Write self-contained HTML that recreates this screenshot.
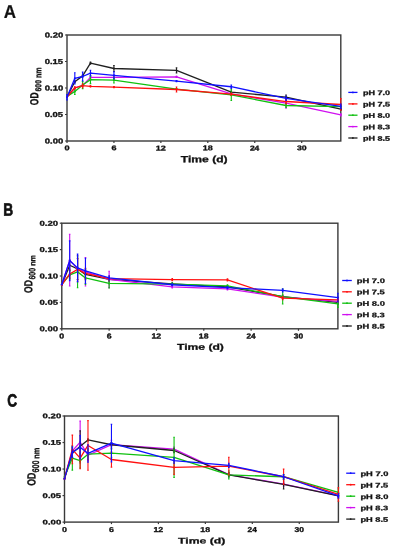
<!DOCTYPE html>
<html><head><meta charset="utf-8"><style>
html,body{margin:0;padding:0;background:#fff;}
svg{display:block;}
text{font-family:"Liberation Sans", Arial, sans-serif;}
</style></head><body>
<svg width="394" height="550" viewBox="0 0 394 550">
<rect width="394" height="550" fill="#fff"/>
<rect x="67" y="35" width="273.8" height="106" fill="none" stroke="#3a3a3a" stroke-width="1.4"/>
<polyline points="67,97.01 74.82,88 82.65,85.35 90.47,77.4 113.94,77.29 176.52,76.82 231.28,93.88 286.04,103.21 340.8,114.82" fill="none" stroke="#d010f0" stroke-width="1.3" stroke-linejoin="round"/>
<circle cx="67" cy="97.01" r="1" fill="#d010f0"/>
<path d="M74.82 86.94V89.06M74.02 86.94h1.6M74.02 89.06h1.6" stroke="#d010f0" stroke-width="1.1"/>
<circle cx="74.82" cy="88" r="1" fill="#d010f0"/>
<path d="M82.65 84.29V86.41M81.85 84.29h1.6M81.85 86.41h1.6" stroke="#d010f0" stroke-width="1.1"/>
<circle cx="82.65" cy="85.35" r="1" fill="#d010f0"/>
<path d="M90.47 76.34V78.46M89.67 76.34h1.6M89.67 78.46h1.6" stroke="#d010f0" stroke-width="1.1"/>
<circle cx="90.47" cy="77.4" r="1" fill="#d010f0"/>
<path d="M113.94 76.23V78.35M113.14 76.23h1.6M113.14 78.35h1.6" stroke="#d010f0" stroke-width="1.1"/>
<circle cx="113.94" cy="77.29" r="1" fill="#d010f0"/>
<path d="M176.52 76.29V77.35M175.72 76.29h1.6M175.72 77.35h1.6" stroke="#d010f0" stroke-width="1.1"/>
<circle cx="176.52" cy="76.82" r="1" fill="#d010f0"/>
<path d="M231.28 92.82V94.94M230.48 92.82h1.6M230.48 94.94h1.6" stroke="#d010f0" stroke-width="1.1"/>
<circle cx="231.28" cy="93.88" r="1" fill="#d010f0"/>
<path d="M286.04 98.12V108.3M285.24 98.12h1.6M285.24 108.3h1.6" stroke="#d010f0" stroke-width="1.1"/>
<circle cx="286.04" cy="103.21" r="1" fill="#d010f0"/>
<path d="M340.8 113.76V115.88M340 113.76h1.6M340 115.88h1.6" stroke="#d010f0" stroke-width="1.1"/>
<circle cx="340.8" cy="114.82" r="1" fill="#d010f0"/>
<polyline points="67,97.01 74.82,81.75 82.65,75.86 90.47,63.09 113.94,68.5 176.52,70.4 231.28,92.13 286.04,97.22 340.8,109.2" fill="none" stroke="#202020" stroke-width="1.3" stroke-linejoin="round"/>
<circle cx="67" cy="97.01" r="1" fill="#202020"/>
<path d="M74.82 80.69V82.81M74.02 80.69h1.6M74.02 82.81h1.6" stroke="#202020" stroke-width="1.1"/>
<circle cx="74.82" cy="81.75" r="1" fill="#202020"/>
<path d="M82.65 74.8V76.92M81.85 74.8h1.6M81.85 76.92h1.6" stroke="#202020" stroke-width="1.1"/>
<circle cx="82.65" cy="75.86" r="1" fill="#202020"/>
<path d="M90.47 62.03V64.15M89.67 62.03h1.6M89.67 64.15h1.6" stroke="#202020" stroke-width="1.1"/>
<circle cx="90.47" cy="63.09" r="1" fill="#202020"/>
<path d="M113.94 65.47V71.52M113.14 65.47h1.6M113.14 71.52h1.6" stroke="#202020" stroke-width="1.1"/>
<circle cx="113.94" cy="68.5" r="1" fill="#202020"/>
<path d="M176.52 67.91V72.89M175.72 67.91h1.6M175.72 72.89h1.6" stroke="#202020" stroke-width="1.1"/>
<circle cx="176.52" cy="70.4" r="1" fill="#202020"/>
<path d="M231.28 91.07V93.19M230.48 91.07h1.6M230.48 93.19h1.6" stroke="#202020" stroke-width="1.1"/>
<circle cx="231.28" cy="92.13" r="1" fill="#202020"/>
<path d="M286.04 94.94V99.5M285.24 94.94h1.6M285.24 99.5h1.6" stroke="#202020" stroke-width="1.1"/>
<circle cx="286.04" cy="97.22" r="1" fill="#202020"/>
<path d="M340.8 108.14V110.26M340 108.14h1.6M340 110.26h1.6" stroke="#202020" stroke-width="1.1"/>
<circle cx="340.8" cy="109.2" r="1" fill="#202020"/>
<polyline points="67,96.48 74.82,91.39 82.65,85.09 90.47,79.63 113.94,80.1 176.52,89.06 231.28,94.89 286.04,105.49 340.8,106.55" fill="none" stroke="#10c010" stroke-width="1.3" stroke-linejoin="round"/>
<circle cx="67" cy="96.48" r="1" fill="#10c010"/>
<path d="M74.82 88.21V94.57M74.02 88.21h1.6M74.02 94.57h1.6" stroke="#10c010" stroke-width="1.1"/>
<circle cx="74.82" cy="91.39" r="1" fill="#10c010"/>
<path d="M82.65 81.59V88.58M81.85 81.59h1.6M81.85 88.58h1.6" stroke="#10c010" stroke-width="1.1"/>
<circle cx="82.65" cy="85.09" r="1" fill="#10c010"/>
<path d="M90.47 75.65V83.6M89.67 75.65h1.6M89.67 83.6h1.6" stroke="#10c010" stroke-width="1.1"/>
<circle cx="90.47" cy="79.63" r="1" fill="#10c010"/>
<path d="M113.94 77.19V83.02M113.14 77.19h1.6M113.14 83.02h1.6" stroke="#10c010" stroke-width="1.1"/>
<circle cx="113.94" cy="80.1" r="1" fill="#10c010"/>
<path d="M176.52 88.53V89.59M175.72 88.53h1.6M175.72 89.59h1.6" stroke="#10c010" stroke-width="1.1"/>
<circle cx="176.52" cy="89.06" r="1" fill="#10c010"/>
<path d="M231.28 89.27V100.51M230.48 89.27h1.6M230.48 100.51h1.6" stroke="#10c010" stroke-width="1.1"/>
<circle cx="231.28" cy="94.89" r="1" fill="#10c010"/>
<path d="M286.04 103.63V107.34M285.24 103.63h1.6M285.24 107.34h1.6" stroke="#10c010" stroke-width="1.1"/>
<circle cx="286.04" cy="105.49" r="1" fill="#10c010"/>
<path d="M340.8 105.49V107.61M340 105.49h1.6M340 107.61h1.6" stroke="#10c010" stroke-width="1.1"/>
<circle cx="340.8" cy="106.55" r="1" fill="#10c010"/>
<polyline points="67,97.01 74.82,87.79 82.65,85.72 90.47,86.3 113.94,87.1 176.52,89.48 231.28,94.2 286.04,101.52 340.8,104.48" fill="none" stroke="#ff1010" stroke-width="1.3" stroke-linejoin="round"/>
<circle cx="67" cy="97.01" r="1" fill="#ff1010"/>
<path d="M74.82 86.73V88.85M74.02 86.73h1.6M74.02 88.85h1.6" stroke="#ff1010" stroke-width="1.1"/>
<circle cx="74.82" cy="87.79" r="1" fill="#ff1010"/>
<path d="M82.65 83.71V87.73M81.85 83.71h1.6M81.85 87.73h1.6" stroke="#ff1010" stroke-width="1.1"/>
<circle cx="82.65" cy="85.72" r="1" fill="#ff1010"/>
<path d="M90.47 85.77V86.83M89.67 85.77h1.6M89.67 86.83h1.6" stroke="#ff1010" stroke-width="1.1"/>
<circle cx="90.47" cy="86.3" r="1" fill="#ff1010"/>
<path d="M113.94 86.57V87.63M113.14 86.57h1.6M113.14 87.63h1.6" stroke="#ff1010" stroke-width="1.1"/>
<circle cx="113.94" cy="87.1" r="1" fill="#ff1010"/>
<path d="M176.52 86.94V92.03M175.72 86.94h1.6M175.72 92.03h1.6" stroke="#ff1010" stroke-width="1.1"/>
<circle cx="176.52" cy="89.48" r="1" fill="#ff1010"/>
<path d="M231.28 93.14V95.26M230.48 93.14h1.6M230.48 95.26h1.6" stroke="#ff1010" stroke-width="1.1"/>
<circle cx="231.28" cy="94.2" r="1" fill="#ff1010"/>
<path d="M286.04 99.4V103.64M285.24 99.4h1.6M285.24 103.64h1.6" stroke="#ff1010" stroke-width="1.1"/>
<circle cx="286.04" cy="101.52" r="1" fill="#ff1010"/>
<path d="M340.8 98.65V110.31M340 98.65h1.6M340 110.31h1.6" stroke="#ff1010" stroke-width="1.1"/>
<circle cx="340.8" cy="104.48" r="1" fill="#ff1010"/>
<polyline points="67,97.22 74.82,78.35 82.65,76.5 90.47,73.16 113.94,75.28 176.52,81.11 231.28,86.73 286.04,98.44 340.8,106.28" fill="none" stroke="#1010ff" stroke-width="1.3" stroke-linejoin="round"/>
<path d="M67 94.57V99.87M66.2 94.57h1.6M66.2 99.87h1.6" stroke="#1010ff" stroke-width="1.1"/>
<circle cx="67" cy="97.22" r="1" fill="#1010ff"/>
<path d="M74.82 72.74V83.97M74.02 72.74h1.6M74.02 83.97h1.6" stroke="#1010ff" stroke-width="1.1"/>
<circle cx="74.82" cy="78.35" r="1" fill="#1010ff"/>
<path d="M82.65 72.1V80.9M81.85 72.1h1.6M81.85 80.9h1.6" stroke="#1010ff" stroke-width="1.1"/>
<circle cx="82.65" cy="76.5" r="1" fill="#1010ff"/>
<path d="M90.47 70.3V76.02M89.67 70.3h1.6M89.67 76.02h1.6" stroke="#1010ff" stroke-width="1.1"/>
<circle cx="90.47" cy="73.16" r="1" fill="#1010ff"/>
<path d="M113.94 71.84V78.72M113.14 71.84h1.6M113.14 78.72h1.6" stroke="#1010ff" stroke-width="1.1"/>
<circle cx="113.94" cy="75.28" r="1" fill="#1010ff"/>
<path d="M176.52 80.58V81.64M175.72 80.58h1.6M175.72 81.64h1.6" stroke="#1010ff" stroke-width="1.1"/>
<circle cx="176.52" cy="81.11" r="1" fill="#1010ff"/>
<path d="M231.28 84.93V88.53M230.48 84.93h1.6M230.48 88.53h1.6" stroke="#1010ff" stroke-width="1.1"/>
<circle cx="231.28" cy="86.73" r="1" fill="#1010ff"/>
<path d="M286.04 96.32V100.56M285.24 96.32h1.6M285.24 100.56h1.6" stroke="#1010ff" stroke-width="1.1"/>
<circle cx="286.04" cy="98.44" r="1" fill="#1010ff"/>
<path d="M340.8 104.16V108.41M340 104.16h1.6M340 108.41h1.6" stroke="#1010ff" stroke-width="1.1"/>
<circle cx="340.8" cy="106.28" r="1" fill="#1010ff"/>
<path d="M65 141H67" stroke="#3a3a3a" stroke-width="1.2"/>
<text transform="translate(44.72,143.48) scale(1.321,1) rotate(0.05)" font-size="7.18" fill="#111" font-weight="bold" stroke="#111" stroke-width="0.30">0.00</text>
<path d="M65 114.5H67" stroke="#3a3a3a" stroke-width="1.2"/>
<text transform="translate(44.72,116.98) scale(1.311,1) rotate(0.05)" font-size="7.18" fill="#111" font-weight="bold" stroke="#111" stroke-width="0.31">0.05</text>
<path d="M65 88H67" stroke="#3a3a3a" stroke-width="1.2"/>
<text transform="translate(44.72,90.48) scale(1.321,1) rotate(0.05)" font-size="7.18" fill="#111" font-weight="bold" stroke="#111" stroke-width="0.30">0.10</text>
<path d="M65 61.5H67" stroke="#3a3a3a" stroke-width="1.2"/>
<text transform="translate(44.72,63.98) scale(1.311,1) rotate(0.05)" font-size="7.18" fill="#111" font-weight="bold" stroke="#111" stroke-width="0.31">0.15</text>
<path d="M65 35H67" stroke="#3a3a3a" stroke-width="1.2"/>
<text transform="translate(44.72,37.48) scale(1.321,1) rotate(0.05)" font-size="7.18" fill="#111" font-weight="bold" stroke="#111" stroke-width="0.30">0.20</text>
<path d="M67 141V143" stroke="#3a3a3a" stroke-width="1.2"/>
<text transform="translate(64.46,150.33) scale(1.327,1) rotate(0.05)" font-size="6.90" fill="#111" font-weight="bold" stroke="#111" stroke-width="0.30">0</text>
<path d="M113.94 141V143" stroke="#3a3a3a" stroke-width="1.2"/>
<text transform="translate(111.45,150.33) scale(1.300,1) rotate(0.05)" font-size="6.90" fill="#111" font-weight="bold" stroke="#111" stroke-width="0.31">6</text>
<path d="M160.87 141V143" stroke="#3a3a3a" stroke-width="1.2"/>
<text transform="translate(155.74,150.4) scale(1.294,1) rotate(0.05)" font-size="7.00" fill="#111" font-weight="bold" stroke="#111" stroke-width="0.31">12</text>
<path d="M207.81 141V143" stroke="#3a3a3a" stroke-width="1.2"/>
<text transform="translate(202.68,150.33) scale(1.299,1) rotate(0.05)" font-size="6.90" fill="#111" font-weight="bold" stroke="#111" stroke-width="0.31">18</text>
<path d="M254.75 141V143" stroke="#3a3a3a" stroke-width="1.2"/>
<text transform="translate(249.9,150.4) scale(1.215,1) rotate(0.05)" font-size="7.00" fill="#111" font-weight="bold" stroke="#111" stroke-width="0.33">24</text>
<path d="M301.69 141V143" stroke="#3a3a3a" stroke-width="1.2"/>
<text transform="translate(296.92,150.33) scale(1.262,1) rotate(0.05)" font-size="6.90" fill="#111" font-weight="bold" stroke="#111" stroke-width="0.32">30</text>
<text transform="translate(180.78,162.31) scale(1.348,1) rotate(0.05)" font-size="8.98" fill="#111" font-weight="bold" stroke="#111" stroke-width="0.30">Time (d)</text>
<text transform="translate(38.33,105.19) rotate(-89.95) scale(0.729,1)" font-size="11.69" fill="#111" font-weight="bold" stroke="#111" stroke-width="0.30">OD</text>
<text transform="translate(41.16,91.49) rotate(-89.95) scale(0.798,1)" font-size="8.59" fill="#111" font-weight="bold" stroke="#111" stroke-width="0.30">600</text>
<text transform="translate(41.25,78.01) rotate(-89.95) scale(0.813,1)" font-size="8.70" fill="#111" font-weight="bold" stroke="#111" stroke-width="0.30">nm</text>
<text transform="translate(3.87,18) scale(0.910,1) rotate(0.05)" font-size="18.70" fill="#111" font-weight="bold" stroke="#111" stroke-width="0.22">A</text>
<path d="M348.3 92.4H357.5" stroke="#1010ff" stroke-width="1.3"/>
<circle cx="352.9" cy="92.4" r="0.9" fill="#1010ff"/>
<text transform="translate(363.01,95.02) scale(1.373,1) rotate(0.05)" font-size="6.59" fill="#111" font-weight="bold" stroke="#111" stroke-width="0.29">pH 7.0</text>
<path d="M348.3 103.9H357.5" stroke="#ff1010" stroke-width="1.3"/>
<circle cx="352.9" cy="103.9" r="0.9" fill="#ff1010"/>
<text transform="translate(363.01,106.5) scale(1.351,1) rotate(0.05)" font-size="6.67" fill="#111" font-weight="bold" stroke="#111" stroke-width="0.30">pH 7.5</text>
<path d="M348.3 115.2H357.5" stroke="#10c010" stroke-width="1.3"/>
<circle cx="352.9" cy="115.2" r="0.9" fill="#10c010"/>
<text transform="translate(363.01,117.82) scale(1.373,1) rotate(0.05)" font-size="6.59" fill="#111" font-weight="bold" stroke="#111" stroke-width="0.29">pH 8.0</text>
<path d="M348.3 126.6H357.5" stroke="#d010f0" stroke-width="1.3"/>
<circle cx="352.9" cy="126.6" r="0.9" fill="#d010f0"/>
<text transform="translate(363.01,129.22) scale(1.370,1) rotate(0.05)" font-size="6.59" fill="#111" font-weight="bold" stroke="#111" stroke-width="0.29">pH 8.3</text>
<path d="M348.3 138H357.5" stroke="#202020" stroke-width="1.3"/>
<circle cx="352.9" cy="138" r="0.9" fill="#202020"/>
<text transform="translate(363.01,140.62) scale(1.366,1) rotate(0.05)" font-size="6.59" fill="#111" font-weight="bold" stroke="#111" stroke-width="0.29">pH 8.5</text>
<rect x="61.8" y="223.2" width="276.1" height="105.6" fill="none" stroke="#3a3a3a" stroke-width="1.4"/>
<polyline points="61.8,284.98 69.69,265.28 77.58,268.87 85.47,274.42 109.13,279.43 172.24,283.92 227.46,286.82 282.68,296.54 337.9,302.4" fill="none" stroke="#202020" stroke-width="1.3" stroke-linejoin="round"/>
<circle cx="61.8" cy="284.98" r="1" fill="#202020"/>
<path d="M69.69 260V270.56M68.89 260h1.6M68.89 270.56h1.6" stroke="#202020" stroke-width="1.1"/>
<circle cx="69.69" cy="265.28" r="1" fill="#202020"/>
<path d="M77.58 258.31V279.43M76.78 258.31h1.6M76.78 279.43h1.6" stroke="#202020" stroke-width="1.1"/>
<circle cx="77.58" cy="268.87" r="1" fill="#202020"/>
<path d="M85.47 269.14V279.7M84.67 269.14h1.6M84.67 279.7h1.6" stroke="#202020" stroke-width="1.1"/>
<circle cx="85.47" cy="274.42" r="1" fill="#202020"/>
<path d="M109.13 277.32V281.54M108.33 277.32h1.6M108.33 281.54h1.6" stroke="#202020" stroke-width="1.1"/>
<circle cx="109.13" cy="279.43" r="1" fill="#202020"/>
<path d="M172.24 282.86V284.98M171.44 282.86h1.6M171.44 284.98h1.6" stroke="#202020" stroke-width="1.1"/>
<circle cx="172.24" cy="283.92" r="1" fill="#202020"/>
<path d="M227.46 285.77V287.88M226.66 285.77h1.6M226.66 287.88h1.6" stroke="#202020" stroke-width="1.1"/>
<circle cx="227.46" cy="286.82" r="1" fill="#202020"/>
<path d="M282.68 294.96V298.12M281.88 294.96h1.6M281.88 298.12h1.6" stroke="#202020" stroke-width="1.1"/>
<circle cx="282.68" cy="296.54" r="1" fill="#202020"/>
<path d="M337.9 300.82V303.98M337.1 300.82h1.6M337.1 303.98h1.6" stroke="#202020" stroke-width="1.1"/>
<circle cx="337.9" cy="302.4" r="1" fill="#202020"/>
<polyline points="61.8,284.98 69.69,260.16 77.58,268.87 85.47,271.78 109.13,279.43 172.24,286.93 227.46,288.94 282.68,297.12 337.9,301.34" fill="none" stroke="#d010f0" stroke-width="1.3" stroke-linejoin="round"/>
<circle cx="61.8" cy="284.98" r="1" fill="#d010f0"/>
<path d="M69.69 234.29V286.03M68.89 234.29h1.6M68.89 286.03h1.6" stroke="#d010f0" stroke-width="1.1"/>
<circle cx="69.69" cy="260.16" r="1" fill="#d010f0"/>
<path d="M77.58 255.67V282.07M76.78 255.67h1.6M76.78 282.07h1.6" stroke="#d010f0" stroke-width="1.1"/>
<circle cx="77.58" cy="268.87" r="1" fill="#d010f0"/>
<path d="M85.47 257.52V286.03M84.67 257.52h1.6M84.67 286.03h1.6" stroke="#d010f0" stroke-width="1.1"/>
<circle cx="85.47" cy="271.78" r="1" fill="#d010f0"/>
<path d="M109.13 271.25V287.62M108.33 271.25h1.6M108.33 287.62h1.6" stroke="#d010f0" stroke-width="1.1"/>
<circle cx="109.13" cy="279.43" r="1" fill="#d010f0"/>
<path d="M172.24 285.87V287.99M171.44 285.87h1.6M171.44 287.99h1.6" stroke="#d010f0" stroke-width="1.1"/>
<circle cx="172.24" cy="286.93" r="1" fill="#d010f0"/>
<path d="M227.46 287.88V289.99M226.66 287.88h1.6M226.66 289.99h1.6" stroke="#d010f0" stroke-width="1.1"/>
<circle cx="227.46" cy="288.94" r="1" fill="#d010f0"/>
<path d="M282.68 295.54V298.7M281.88 295.54h1.6M281.88 298.7h1.6" stroke="#d010f0" stroke-width="1.1"/>
<circle cx="282.68" cy="297.12" r="1" fill="#d010f0"/>
<path d="M337.9 299.76V302.93M337.1 299.76h1.6M337.1 302.93h1.6" stroke="#d010f0" stroke-width="1.1"/>
<circle cx="337.9" cy="301.34" r="1" fill="#d010f0"/>
<polyline points="61.8,284.45 69.69,274.94 77.58,271.88 85.47,277.95 109.13,283.39 172.24,284.18 227.46,285.82 282.68,296.54 337.9,303.93" fill="none" stroke="#10c010" stroke-width="1.3" stroke-linejoin="round"/>
<circle cx="61.8" cy="284.45" r="1" fill="#10c010"/>
<path d="M69.69 270.72V279.17M68.89 270.72h1.6M68.89 279.17h1.6" stroke="#10c010" stroke-width="1.1"/>
<circle cx="69.69" cy="274.94" r="1" fill="#10c010"/>
<path d="M77.58 256.04V287.72M76.78 256.04h1.6M76.78 287.72h1.6" stroke="#10c010" stroke-width="1.1"/>
<circle cx="77.58" cy="271.88" r="1" fill="#10c010"/>
<path d="M85.47 271.35V284.55M84.67 271.35h1.6M84.67 284.55h1.6" stroke="#10c010" stroke-width="1.1"/>
<circle cx="85.47" cy="277.95" r="1" fill="#10c010"/>
<path d="M109.13 278.8V287.99M108.33 278.8h1.6M108.33 287.99h1.6" stroke="#10c010" stroke-width="1.1"/>
<circle cx="109.13" cy="283.39" r="1" fill="#10c010"/>
<path d="M172.24 283.13V285.24M171.44 283.13h1.6M171.44 285.24h1.6" stroke="#10c010" stroke-width="1.1"/>
<circle cx="172.24" cy="284.18" r="1" fill="#10c010"/>
<path d="M227.46 284.76V286.88M226.66 284.76h1.6M226.66 286.88h1.6" stroke="#10c010" stroke-width="1.1"/>
<circle cx="227.46" cy="285.82" r="1" fill="#10c010"/>
<path d="M282.68 289.15V303.93M281.88 289.15h1.6M281.88 303.93h1.6" stroke="#10c010" stroke-width="1.1"/>
<circle cx="282.68" cy="296.54" r="1" fill="#10c010"/>
<path d="M337.9 300.45V307.42M337.1 300.45h1.6M337.1 307.42h1.6" stroke="#10c010" stroke-width="1.1"/>
<circle cx="337.9" cy="303.93" r="1" fill="#10c010"/>
<polyline points="61.8,284.98 69.69,273.94 77.58,269.35 85.47,273.47 109.13,278.64 172.24,279.64 227.46,279.96 282.68,298.18 337.9,299.81" fill="none" stroke="#ff1010" stroke-width="1.3" stroke-linejoin="round"/>
<circle cx="61.8" cy="284.98" r="1" fill="#ff1010"/>
<path d="M69.69 269.72V278.16M68.89 269.72h1.6M68.89 278.16h1.6" stroke="#ff1010" stroke-width="1.1"/>
<circle cx="69.69" cy="273.94" r="1" fill="#ff1010"/>
<path d="M77.58 258.79V279.91M76.78 258.79h1.6M76.78 279.91h1.6" stroke="#ff1010" stroke-width="1.1"/>
<circle cx="77.58" cy="269.35" r="1" fill="#ff1010"/>
<path d="M85.47 268.19V278.75M84.67 268.19h1.6M84.67 278.75h1.6" stroke="#ff1010" stroke-width="1.1"/>
<circle cx="85.47" cy="273.47" r="1" fill="#ff1010"/>
<path d="M109.13 277.06V280.22M108.33 277.06h1.6M108.33 280.22h1.6" stroke="#ff1010" stroke-width="1.1"/>
<circle cx="109.13" cy="278.64" r="1" fill="#ff1010"/>
<path d="M172.24 278.59V280.7M171.44 278.59h1.6M171.44 280.7h1.6" stroke="#ff1010" stroke-width="1.1"/>
<circle cx="172.24" cy="279.64" r="1" fill="#ff1010"/>
<path d="M227.46 278.9V281.02M226.66 278.9h1.6M226.66 281.02h1.6" stroke="#ff1010" stroke-width="1.1"/>
<circle cx="227.46" cy="279.96" r="1" fill="#ff1010"/>
<path d="M282.68 296.59V299.76M281.88 296.59h1.6M281.88 299.76h1.6" stroke="#ff1010" stroke-width="1.1"/>
<circle cx="282.68" cy="298.18" r="1" fill="#ff1010"/>
<path d="M337.9 298.23V301.4M337.1 298.23h1.6M337.1 301.4h1.6" stroke="#ff1010" stroke-width="1.1"/>
<circle cx="337.9" cy="299.81" r="1" fill="#ff1010"/>
<polyline points="61.8,284.55 69.69,260.74 77.58,267.87 85.47,270.88 109.13,277.85 172.24,284.76 227.46,287.56 282.68,290.41 337.9,297.54" fill="none" stroke="#1010ff" stroke-width="1.3" stroke-linejoin="round"/>
<circle cx="61.8" cy="284.55" r="1" fill="#1010ff"/>
<path d="M69.69 240.84V280.65M68.89 240.84h1.6M68.89 280.65h1.6" stroke="#1010ff" stroke-width="1.1"/>
<circle cx="69.69" cy="260.74" r="1" fill="#1010ff"/>
<path d="M77.58 254.14V281.6M76.78 254.14h1.6M76.78 281.6h1.6" stroke="#1010ff" stroke-width="1.1"/>
<circle cx="77.58" cy="267.87" r="1" fill="#1010ff"/>
<path d="M85.47 258.21V283.55M84.67 258.21h1.6M84.67 283.55h1.6" stroke="#1010ff" stroke-width="1.1"/>
<circle cx="85.47" cy="270.88" r="1" fill="#1010ff"/>
<path d="M109.13 275.74V279.96M108.33 275.74h1.6M108.33 279.96h1.6" stroke="#1010ff" stroke-width="1.1"/>
<circle cx="109.13" cy="277.85" r="1" fill="#1010ff"/>
<path d="M172.24 283.71V285.82M171.44 283.71h1.6M171.44 285.82h1.6" stroke="#1010ff" stroke-width="1.1"/>
<circle cx="172.24" cy="284.76" r="1" fill="#1010ff"/>
<path d="M227.46 286.51V288.62M226.66 286.51h1.6M226.66 288.62h1.6" stroke="#1010ff" stroke-width="1.1"/>
<circle cx="227.46" cy="287.56" r="1" fill="#1010ff"/>
<path d="M282.68 288.83V292M281.88 288.83h1.6M281.88 292h1.6" stroke="#1010ff" stroke-width="1.1"/>
<circle cx="282.68" cy="290.41" r="1" fill="#1010ff"/>
<path d="M337.9 293.32V301.77M337.1 293.32h1.6M337.1 301.77h1.6" stroke="#1010ff" stroke-width="1.1"/>
<circle cx="337.9" cy="297.54" r="1" fill="#1010ff"/>
<path d="M59.8 328.8H61.8" stroke="#3a3a3a" stroke-width="1.2"/>
<text transform="translate(39.52,331.23) scale(1.363,1) rotate(0.05)" font-size="7.04" fill="#111" font-weight="bold" stroke="#111" stroke-width="0.29">0.00</text>
<path d="M59.8 302.4H61.8" stroke="#3a3a3a" stroke-width="1.2"/>
<text transform="translate(39.52,304.83) scale(1.352,1) rotate(0.05)" font-size="7.04" fill="#111" font-weight="bold" stroke="#111" stroke-width="0.30">0.05</text>
<path d="M59.8 276H61.8" stroke="#3a3a3a" stroke-width="1.2"/>
<text transform="translate(39.52,278.43) scale(1.363,1) rotate(0.05)" font-size="7.04" fill="#111" font-weight="bold" stroke="#111" stroke-width="0.29">0.10</text>
<path d="M59.8 249.6H61.8" stroke="#3a3a3a" stroke-width="1.2"/>
<text transform="translate(39.52,252.03) scale(1.352,1) rotate(0.05)" font-size="7.04" fill="#111" font-weight="bold" stroke="#111" stroke-width="0.30">0.15</text>
<path d="M59.8 223.2H61.8" stroke="#3a3a3a" stroke-width="1.2"/>
<text transform="translate(39.52,225.63) scale(1.363,1) rotate(0.05)" font-size="7.04" fill="#111" font-weight="bold" stroke="#111" stroke-width="0.29">0.20</text>
<path d="M61.8 328.8V330.8" stroke="#3a3a3a" stroke-width="1.2"/>
<text transform="translate(59.35,338.53) scale(1.231,1) rotate(0.05)" font-size="7.18" fill="#111" font-weight="bold" stroke="#111" stroke-width="0.32">0</text>
<path d="M109.13 328.8V330.8" stroke="#3a3a3a" stroke-width="1.2"/>
<text transform="translate(106.73,338.53) scale(1.206,1) rotate(0.05)" font-size="7.18" fill="#111" font-weight="bold" stroke="#111" stroke-width="0.33">6</text>
<path d="M156.46 328.8V330.8" stroke="#3a3a3a" stroke-width="1.2"/>
<text transform="translate(151.49,338.6) scale(1.202,1) rotate(0.05)" font-size="7.29" fill="#111" font-weight="bold" stroke="#111" stroke-width="0.33">12</text>
<path d="M203.79 328.8V330.8" stroke="#3a3a3a" stroke-width="1.2"/>
<text transform="translate(198.83,338.53) scale(1.207,1) rotate(0.05)" font-size="7.18" fill="#111" font-weight="bold" stroke="#111" stroke-width="0.33">18</text>
<path d="M251.13 328.8V330.8" stroke="#3a3a3a" stroke-width="1.2"/>
<text transform="translate(246.44,338.6) scale(1.129,1) rotate(0.05)" font-size="7.29" fill="#111" font-weight="bold" stroke="#111" stroke-width="0.35">24</text>
<path d="M298.46 328.8V330.8" stroke="#3a3a3a" stroke-width="1.2"/>
<text transform="translate(293.85,338.53) scale(1.172,1) rotate(0.05)" font-size="7.18" fill="#111" font-weight="bold" stroke="#111" stroke-width="0.34">30</text>
<text transform="translate(176.98,349.63) scale(1.436,1) rotate(0.05)" font-size="8.45" fill="#111" font-weight="bold" stroke="#111" stroke-width="0.28">Time (d)</text>
<text transform="translate(32.33,293) rotate(-89.95) scale(0.750,1)" font-size="11.55" fill="#111" font-weight="bold" stroke="#111" stroke-width="0.30">OD</text>
<text transform="translate(35.16,279.6) rotate(-89.95) scale(0.776,1)" font-size="9.15" fill="#111" font-weight="bold" stroke="#111" stroke-width="0.30">600</text>
<text transform="translate(35.25,265.81) rotate(-89.95) scale(0.910,1)" font-size="7.78" fill="#111" font-weight="bold" stroke="#111" stroke-width="0.30">nm</text>
<text transform="translate(3.35,215.65) scale(0.779,1) rotate(0.05)" font-size="17.68" fill="#111" font-weight="bold" stroke="#111" stroke-width="0.64">B</text>
<path d="M342.2 280.5H351.8" stroke="#1010ff" stroke-width="1.3"/>
<circle cx="347" cy="280.5" r="0.9" fill="#1010ff"/>
<text transform="translate(356.79,283.02) scale(1.420,1) rotate(0.05)" font-size="6.59" fill="#111" font-weight="bold" stroke="#111" stroke-width="0.28">pH 7.0</text>
<path d="M342.2 291.8H351.8" stroke="#ff1010" stroke-width="1.3"/>
<circle cx="347" cy="291.8" r="0.9" fill="#ff1010"/>
<text transform="translate(356.79,294.3) scale(1.397,1) rotate(0.05)" font-size="6.67" fill="#111" font-weight="bold" stroke="#111" stroke-width="0.29">pH 7.5</text>
<path d="M342.2 303.2H351.8" stroke="#10c010" stroke-width="1.3"/>
<circle cx="347" cy="303.2" r="0.9" fill="#10c010"/>
<text transform="translate(356.79,305.72) scale(1.420,1) rotate(0.05)" font-size="6.59" fill="#111" font-weight="bold" stroke="#111" stroke-width="0.28">pH 8.0</text>
<path d="M342.2 314.6H351.8" stroke="#d010f0" stroke-width="1.3"/>
<circle cx="347" cy="314.6" r="0.9" fill="#d010f0"/>
<text transform="translate(356.79,317.12) scale(1.417,1) rotate(0.05)" font-size="6.59" fill="#111" font-weight="bold" stroke="#111" stroke-width="0.28">pH 8.3</text>
<path d="M342.2 326H351.8" stroke="#202020" stroke-width="1.3"/>
<circle cx="347" cy="326" r="0.9" fill="#202020"/>
<text transform="translate(356.79,328.52) scale(1.412,1) rotate(0.05)" font-size="6.59" fill="#111" font-weight="bold" stroke="#111" stroke-width="0.28">pH 8.5</text>
<rect x="64.5" y="416" width="273.9" height="106.1" fill="none" stroke="#3a3a3a" stroke-width="1.4"/>
<polyline points="64.5,478.65 72.33,451.01 80.15,442.1 87.98,455.26 111.45,444.54 174.06,449.16 228.84,474.62 283.62,484.12 338.4,495.68" fill="none" stroke="#d010f0" stroke-width="1.3" stroke-linejoin="round"/>
<circle cx="64.5" cy="478.65" r="1" fill="#d010f0"/>
<path d="M72.33 445.71V456.32M71.53 445.71h1.6M71.53 456.32h1.6" stroke="#d010f0" stroke-width="1.1"/>
<circle cx="72.33" cy="451.01" r="1" fill="#d010f0"/>
<path d="M80.15 421.09V463.11M79.35 421.09h1.6M79.35 463.11h1.6" stroke="#d010f0" stroke-width="1.1"/>
<circle cx="80.15" cy="442.1" r="1" fill="#d010f0"/>
<path d="M87.98 449.95V460.56M87.18 449.95h1.6M87.18 460.56h1.6" stroke="#d010f0" stroke-width="1.1"/>
<circle cx="87.98" cy="455.26" r="1" fill="#d010f0"/>
<path d="M111.45 440.3V448.78M110.65 440.3h1.6M110.65 448.78h1.6" stroke="#d010f0" stroke-width="1.1"/>
<circle cx="111.45" cy="444.54" r="1" fill="#d010f0"/>
<path d="M174.06 447.03V451.28M173.26 447.03h1.6M173.26 451.28h1.6" stroke="#d010f0" stroke-width="1.1"/>
<circle cx="174.06" cy="449.16" r="1" fill="#d010f0"/>
<path d="M228.84 472.5V476.74M228.04 472.5h1.6M228.04 476.74h1.6" stroke="#d010f0" stroke-width="1.1"/>
<circle cx="228.84" cy="474.62" r="1" fill="#d010f0"/>
<path d="M283.62 481.99V486.24M282.82 481.99h1.6M282.82 486.24h1.6" stroke="#d010f0" stroke-width="1.1"/>
<circle cx="283.62" cy="484.12" r="1" fill="#d010f0"/>
<path d="M338.4 493.56V497.8M337.6 493.56h1.6M337.6 497.8h1.6" stroke="#d010f0" stroke-width="1.1"/>
<circle cx="338.4" cy="495.68" r="1" fill="#d010f0"/>
<polyline points="64.5,478.65 72.33,453.13 80.15,446.24 87.98,439.93 111.45,444.75 174.06,450.48 228.84,474.94 283.62,484.43 338.4,495.89" fill="none" stroke="#202020" stroke-width="1.3" stroke-linejoin="round"/>
<circle cx="64.5" cy="478.65" r="1" fill="#202020"/>
<path d="M72.33 447.83V458.44M71.53 447.83h1.6M71.53 458.44h1.6" stroke="#202020" stroke-width="1.1"/>
<circle cx="72.33" cy="453.13" r="1" fill="#202020"/>
<path d="M80.15 430.85V461.62M79.35 430.85h1.6M79.35 461.62h1.6" stroke="#202020" stroke-width="1.1"/>
<circle cx="80.15" cy="446.24" r="1" fill="#202020"/>
<path d="M87.98 438.86V440.99M87.18 438.86h1.6M87.18 440.99h1.6" stroke="#202020" stroke-width="1.1"/>
<circle cx="87.98" cy="439.93" r="1" fill="#202020"/>
<path d="M111.45 442.63V446.88M110.65 442.63h1.6M110.65 446.88h1.6" stroke="#202020" stroke-width="1.1"/>
<circle cx="111.45" cy="444.75" r="1" fill="#202020"/>
<path d="M174.06 448.36V452.6M173.26 448.36h1.6M173.26 452.6h1.6" stroke="#202020" stroke-width="1.1"/>
<circle cx="174.06" cy="450.48" r="1" fill="#202020"/>
<path d="M228.84 472.82V477.06M228.04 472.82h1.6M228.04 477.06h1.6" stroke="#202020" stroke-width="1.1"/>
<circle cx="228.84" cy="474.94" r="1" fill="#202020"/>
<path d="M283.62 479.82V489.05M282.82 479.82h1.6M282.82 489.05h1.6" stroke="#202020" stroke-width="1.1"/>
<circle cx="283.62" cy="484.43" r="1" fill="#202020"/>
<path d="M338.4 493.77V498.02M337.6 493.77h1.6M337.6 498.02h1.6" stroke="#202020" stroke-width="1.1"/>
<circle cx="338.4" cy="495.89" r="1" fill="#202020"/>
<polyline points="64.5,477.01 72.33,458.12 80.15,460.67 87.98,454.2 111.45,453.13 174.06,457.38 228.84,474.94 283.62,476.74 338.4,492.29" fill="none" stroke="#10c010" stroke-width="1.3" stroke-linejoin="round"/>
<circle cx="64.5" cy="477.01" r="1" fill="#10c010"/>
<path d="M72.33 446.13V470.11M71.53 446.13h1.6M71.53 470.11h1.6" stroke="#10c010" stroke-width="1.1"/>
<circle cx="72.33" cy="458.12" r="1" fill="#10c010"/>
<path d="M80.15 453.35V467.99M79.35 453.35h1.6M79.35 467.99h1.6" stroke="#10c010" stroke-width="1.1"/>
<circle cx="80.15" cy="460.67" r="1" fill="#10c010"/>
<path d="M87.98 448.89V459.5M87.18 448.89h1.6M87.18 459.5h1.6" stroke="#10c010" stroke-width="1.1"/>
<circle cx="87.98" cy="454.2" r="1" fill="#10c010"/>
<path d="M111.45 448.89V457.38M110.65 448.89h1.6M110.65 457.38h1.6" stroke="#10c010" stroke-width="1.1"/>
<circle cx="111.45" cy="453.13" r="1" fill="#10c010"/>
<path d="M174.06 437.22V477.54M173.26 437.22h1.6M173.26 477.54h1.6" stroke="#10c010" stroke-width="1.1"/>
<circle cx="174.06" cy="457.38" r="1" fill="#10c010"/>
<path d="M228.84 470.85V479.02M228.04 470.85h1.6M228.04 479.02h1.6" stroke="#10c010" stroke-width="1.1"/>
<circle cx="228.84" cy="474.94" r="1" fill="#10c010"/>
<path d="M283.62 474.62V478.86M282.82 474.62h1.6M282.82 478.86h1.6" stroke="#10c010" stroke-width="1.1"/>
<circle cx="283.62" cy="476.74" r="1" fill="#10c010"/>
<path d="M338.4 488.78V495.79M337.6 488.78h1.6M337.6 495.79h1.6" stroke="#10c010" stroke-width="1.1"/>
<circle cx="338.4" cy="492.29" r="1" fill="#10c010"/>
<polyline points="64.5,478.65 72.33,449.42 80.15,458.12 87.98,445.44 111.45,459.5 174.06,467.46 228.84,466.13 283.62,476.74 338.4,494.35" fill="none" stroke="#ff1010" stroke-width="1.3" stroke-linejoin="round"/>
<circle cx="64.5" cy="478.65" r="1" fill="#ff1010"/>
<path d="M72.33 435.1V463.75M71.53 435.1h1.6M71.53 463.75h1.6" stroke="#ff1010" stroke-width="1.1"/>
<circle cx="72.33" cy="449.42" r="1" fill="#ff1010"/>
<path d="M80.15 447.51V468.73M79.35 447.51h1.6M79.35 468.73h1.6" stroke="#ff1010" stroke-width="1.1"/>
<circle cx="80.15" cy="458.12" r="1" fill="#ff1010"/>
<path d="M87.98 420.62V470.27M87.18 420.62h1.6M87.18 470.27h1.6" stroke="#ff1010" stroke-width="1.1"/>
<circle cx="87.98" cy="445.44" r="1" fill="#ff1010"/>
<path d="M111.45 451.91V467.09M110.65 451.91h1.6M110.65 467.09h1.6" stroke="#ff1010" stroke-width="1.1"/>
<circle cx="111.45" cy="459.5" r="1" fill="#ff1010"/>
<path d="M174.06 460.56V474.36M173.26 460.56h1.6M173.26 474.36h1.6" stroke="#ff1010" stroke-width="1.1"/>
<circle cx="174.06" cy="467.46" r="1" fill="#ff1010"/>
<path d="M228.84 457.22V475.04M228.04 457.22h1.6M228.04 475.04h1.6" stroke="#ff1010" stroke-width="1.1"/>
<circle cx="228.84" cy="466.13" r="1" fill="#ff1010"/>
<path d="M283.62 469.16V484.33M282.82 469.16h1.6M282.82 484.33h1.6" stroke="#ff1010" stroke-width="1.1"/>
<circle cx="283.62" cy="476.74" r="1" fill="#ff1010"/>
<path d="M338.4 487.46V501.25M337.6 487.46h1.6M337.6 501.25h1.6" stroke="#ff1010" stroke-width="1.1"/>
<circle cx="338.4" cy="494.35" r="1" fill="#ff1010"/>
<polyline points="64.5,478.65 72.33,452.18 80.15,447.25 87.98,453.45 111.45,443.06 174.06,460.56 228.84,465.34 283.62,476.74 338.4,495.89" fill="none" stroke="#1010ff" stroke-width="1.3" stroke-linejoin="round"/>
<circle cx="64.5" cy="478.65" r="1" fill="#1010ff"/>
<path d="M72.33 446.88V457.49M71.53 446.88h1.6M71.53 457.49h1.6" stroke="#1010ff" stroke-width="1.1"/>
<circle cx="72.33" cy="452.18" r="1" fill="#1010ff"/>
<path d="M80.15 435.58V458.92M79.35 435.58h1.6M79.35 458.92h1.6" stroke="#1010ff" stroke-width="1.1"/>
<circle cx="80.15" cy="447.25" r="1" fill="#1010ff"/>
<path d="M87.98 444.75V462.15M87.18 444.75h1.6M87.18 462.15h1.6" stroke="#1010ff" stroke-width="1.1"/>
<circle cx="87.98" cy="453.45" r="1" fill="#1010ff"/>
<path d="M111.45 424.22V461.89M110.65 424.22h1.6M110.65 461.89h1.6" stroke="#1010ff" stroke-width="1.1"/>
<circle cx="111.45" cy="443.06" r="1" fill="#1010ff"/>
<path d="M174.06 457.91V463.21M173.26 457.91h1.6M173.26 463.21h1.6" stroke="#1010ff" stroke-width="1.1"/>
<circle cx="174.06" cy="460.56" r="1" fill="#1010ff"/>
<path d="M228.84 463.21V467.46M228.04 463.21h1.6M228.04 467.46h1.6" stroke="#1010ff" stroke-width="1.1"/>
<circle cx="228.84" cy="465.34" r="1" fill="#1010ff"/>
<path d="M283.62 474.62V478.86M282.82 474.62h1.6M282.82 478.86h1.6" stroke="#1010ff" stroke-width="1.1"/>
<circle cx="283.62" cy="476.74" r="1" fill="#1010ff"/>
<path d="M338.4 493.77V498.02M337.6 493.77h1.6M337.6 498.02h1.6" stroke="#1010ff" stroke-width="1.1"/>
<circle cx="338.4" cy="495.89" r="1" fill="#1010ff"/>
<path d="M62.5 522.1H64.5" stroke="#3a3a3a" stroke-width="1.2"/>
<text transform="translate(42.62,524.43) scale(1.412,1) rotate(0.05)" font-size="6.76" fill="#111" font-weight="bold" stroke="#111" stroke-width="0.28">0.00</text>
<path d="M62.5 495.58H64.5" stroke="#3a3a3a" stroke-width="1.2"/>
<text transform="translate(42.62,497.91) scale(1.400,1) rotate(0.05)" font-size="6.76" fill="#111" font-weight="bold" stroke="#111" stroke-width="0.29">0.05</text>
<path d="M62.5 469.05H64.5" stroke="#3a3a3a" stroke-width="1.2"/>
<text transform="translate(42.62,471.38) scale(1.412,1) rotate(0.05)" font-size="6.76" fill="#111" font-weight="bold" stroke="#111" stroke-width="0.28">0.10</text>
<path d="M62.5 442.52H64.5" stroke="#3a3a3a" stroke-width="1.2"/>
<text transform="translate(42.62,444.86) scale(1.400,1) rotate(0.05)" font-size="6.76" fill="#111" font-weight="bold" stroke="#111" stroke-width="0.29">0.15</text>
<path d="M62.5 416H64.5" stroke="#3a3a3a" stroke-width="1.2"/>
<text transform="translate(42.62,418.33) scale(1.412,1) rotate(0.05)" font-size="6.76" fill="#111" font-weight="bold" stroke="#111" stroke-width="0.28">0.20</text>
<path d="M64.5 522.1V524.1" stroke="#3a3a3a" stroke-width="1.2"/>
<text transform="translate(62.02,531.93) scale(1.271,1) rotate(0.05)" font-size="7.04" fill="#111" font-weight="bold" stroke="#111" stroke-width="0.31">0</text>
<path d="M111.45 522.1V524.1" stroke="#3a3a3a" stroke-width="1.2"/>
<text transform="translate(109.02,531.93) scale(1.244,1) rotate(0.05)" font-size="7.04" fill="#111" font-weight="bold" stroke="#111" stroke-width="0.32">6</text>
<path d="M158.41 522.1V524.1" stroke="#3a3a3a" stroke-width="1.2"/>
<text transform="translate(153.38,532) scale(1.240,1) rotate(0.05)" font-size="7.14" fill="#111" font-weight="bold" stroke="#111" stroke-width="0.32">12</text>
<path d="M205.36 522.1V524.1" stroke="#3a3a3a" stroke-width="1.2"/>
<text transform="translate(200.34,531.93) scale(1.245,1) rotate(0.05)" font-size="7.04" fill="#111" font-weight="bold" stroke="#111" stroke-width="0.32">18</text>
<path d="M252.32 522.1V524.1" stroke="#3a3a3a" stroke-width="1.2"/>
<text transform="translate(247.58,532) scale(1.164,1) rotate(0.05)" font-size="7.14" fill="#111" font-weight="bold" stroke="#111" stroke-width="0.34">24</text>
<path d="M299.27 522.1V524.1" stroke="#3a3a3a" stroke-width="1.2"/>
<text transform="translate(294.61,531.93) scale(1.209,1) rotate(0.05)" font-size="7.04" fill="#111" font-weight="bold" stroke="#111" stroke-width="0.33">30</text>
<text transform="translate(178.08,543.59) scale(1.503,1) rotate(0.05)" font-size="8.13" fill="#111" font-weight="bold" stroke="#111" stroke-width="0.27">Time (d)</text>
<text transform="translate(35.53,485.8) rotate(-89.95) scale(0.738,1)" font-size="11.83" fill="#111" font-weight="bold" stroke="#111" stroke-width="0.30">OD</text>
<text transform="translate(39.05,472.61) rotate(-89.95) scale(0.751,1)" font-size="9.72" fill="#111" font-weight="bold" stroke="#111" stroke-width="0.30">600</text>
<text transform="translate(39.15,458.73) rotate(-89.95) scale(0.874,1)" font-size="8.52" fill="#111" font-weight="bold" stroke="#111" stroke-width="0.30">nm</text>
<text transform="translate(7.3,406.47) scale(0.774,1) rotate(0.05)" font-size="17.75" fill="#111" font-weight="bold" stroke="#111" stroke-width="0.65">C</text>
<path d="M346.2 473.2H355.2" stroke="#1010ff" stroke-width="1.3"/>
<circle cx="350.7" cy="473.2" r="0.9" fill="#1010ff"/>
<text transform="translate(360.39,475.92) scale(1.415,1) rotate(0.05)" font-size="6.59" fill="#111" font-weight="bold" stroke="#111" stroke-width="0.28">pH 7.0</text>
<path d="M346.2 484.7H355.2" stroke="#ff1010" stroke-width="1.3"/>
<circle cx="350.7" cy="484.7" r="0.9" fill="#ff1010"/>
<text transform="translate(360.4,487.4) scale(1.392,1) rotate(0.05)" font-size="6.67" fill="#111" font-weight="bold" stroke="#111" stroke-width="0.29">pH 7.5</text>
<path d="M346.2 496.2H355.2" stroke="#10c010" stroke-width="1.3"/>
<circle cx="350.7" cy="496.2" r="0.9" fill="#10c010"/>
<text transform="translate(360.39,498.92) scale(1.415,1) rotate(0.05)" font-size="6.59" fill="#111" font-weight="bold" stroke="#111" stroke-width="0.28">pH 8.0</text>
<path d="M346.2 507.6H355.2" stroke="#d010f0" stroke-width="1.3"/>
<circle cx="350.7" cy="507.6" r="0.9" fill="#d010f0"/>
<text transform="translate(360.39,510.32) scale(1.412,1) rotate(0.05)" font-size="6.59" fill="#111" font-weight="bold" stroke="#111" stroke-width="0.28">pH 8.3</text>
<path d="M346.2 519.1H355.2" stroke="#202020" stroke-width="1.3"/>
<circle cx="350.7" cy="519.1" r="0.9" fill="#202020"/>
<text transform="translate(360.4,521.82) scale(1.407,1) rotate(0.05)" font-size="6.59" fill="#111" font-weight="bold" stroke="#111" stroke-width="0.28">pH 8.5</text>
</svg>
</body></html>
